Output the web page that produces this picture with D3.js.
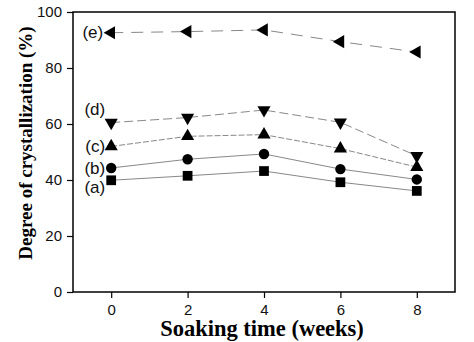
<!DOCTYPE html>
<html><head><meta charset="utf-8">
<script src="https://cdn.jsdelivr.net/npm/d3@7"></script>
<style>body{margin:0;background:#fff}svg{display:block}</style>
</head><body>
<svg id="c" width="474" height="342"></svg>
<script>
const weeks = [0, 2, 4, 6, 8];
const seriesA = [39.9, 41.5, 43.2, 39.2, 36.1];
const seriesB = [44.3, 47.4, 49.3, 43.9, 40.2];
const seriesC = [52.0, 55.6, 56.2, 51.2, 44.6];
const seriesD = [60.5, 62.3, 65.0, 60.6, 48.6];
const seriesE = [92.6, 93.0, 93.6, 89.4, 85.7];
const seriesLabels = ["(a)", "(b)", "(c)", "(d)", "(e)"];
const yTicks = [0, 20, 40, 60, 80, 100];
const xTicks = [0, 2, 4, 6, 8];

const svg = d3.select("#c");
const L = 73, R = 455, T = 12, B = 292;
const x = d3.scaleLinear().domain([-1, 9]).range([L, R]);
const y = d3.scaleLinear().domain([0, 100]).range([B, T]);

const series = [
  {v: seriesA, sym: d3.symbolSquare, size: 95, rot: 0, dash: null, lab: seriesLabels[0], lx: -6, ly: 7},
  {v: seriesB, sym: d3.symbolCircle, size: 85, rot: 0, dash: null, lab: seriesLabels[1], lx: -6, ly: 1},
  {v: seriesC, sym: d3.symbolTriangle, size: 75, rot: 0, dash: "6,2", lab: seriesLabels[2], lx: -6, ly: 0},
  {v: seriesD, sym: d3.symbolTriangle, size: 75, rot: 180, dash: "9,4", lab: seriesLabels[3], lx: -6, ly: -13},
  {v: seriesE, sym: d3.symbolTriangle, size: 75, rot: -90, dash: "12,8", lab: seriesLabels[4], lx: -8, ly: 0}
];

const fontTick = "'Liberation Sans', Arial, sans-serif";
const gx = svg.append("g").attr("transform", `translate(0,${B})`)
  .call(d3.axisBottom(x).tickValues(xTicks).tickSize(6).tickPadding(6).tickFormat(d3.format("d")));
const gy = svg.append("g").attr("transform", `translate(${L},0)`)
  .call(d3.axisLeft(y).tickValues(yTicks).tickSize(6).tickPadding(5).tickFormat(d3.format("d")));
[gx, gy].forEach(g => {
  g.select(".domain").remove();
  g.selectAll("line").attr("stroke", "#000").attr("stroke-width", 1.2);
  g.selectAll("text").attr("font-family", fontTick).attr("font-size", 15).attr("fill", "#111");
});

svg.append("rect").attr("x", L).attr("y", T).attr("width", R - L).attr("height", B - T)
  .attr("fill", "none").attr("stroke", "#000").attr("stroke-width", 1.5);

const line = d3.line().x((d, i) => x(weeks[i])).y(d => y(d));
series.forEach(s => {
  svg.append("path").datum(s.v).attr("d", line)
    .attr("fill", "none").attr("stroke", "#888").attr("stroke-width", 1)
    .attr("stroke-dasharray", s.dash);
  svg.append("g").selectAll("path").data(s.v).join("path")
    .attr("d", d3.symbol().type(s.sym).size(s.size))
    .attr("transform", (d, i) => `translate(${x(weeks[i])},${y(d)}) rotate(${s.rot})`)
    .attr("fill", "#000");
  svg.append("text").attr("x", x(weeks[0]) + s.lx).attr("y", y(s.v[0]) + s.ly)
    .attr("text-anchor", "end").attr("dominant-baseline", "central")
    .attr("font-family", fontTick).attr("font-size", 17).attr("fill", "#111").text(s.lab);
});

svg.append("text").attr("x", 262).attr("y", 336).attr("text-anchor", "middle")
  .attr("font-family", "'Liberation Serif', 'Times New Roman', serif").attr("font-weight", "bold")
  .attr("font-size", 22.5).text("Soaking time (weeks)");
svg.append("text").attr("transform", `translate(32,143) rotate(-90)`).attr("text-anchor", "middle")
  .attr("font-family", "'Liberation Serif', 'Times New Roman', serif").attr("font-weight", "bold")
  .attr("font-size", 19).text("Degree of crystallization (%)");
</script>
</body></html>
